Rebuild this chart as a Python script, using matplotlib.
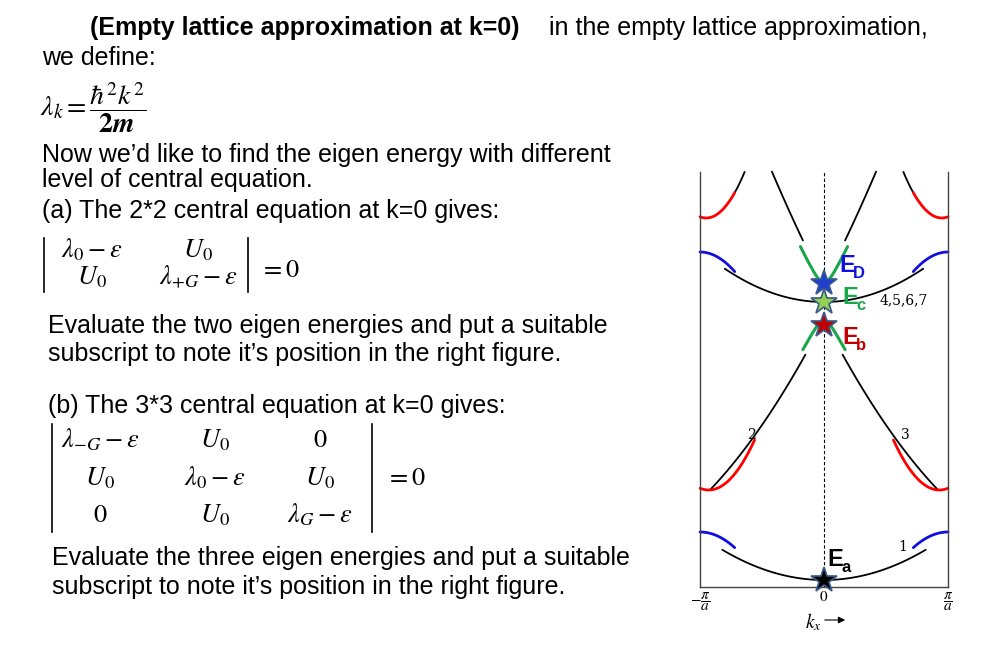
import numpy as np
import matplotlib
matplotlib.use("Agg")
import matplotlib.pyplot as plt

plt.rcParams["font.family"] = ["Liberation Sans", "DejaVu Sans"]
plt.rcParams["mathtext.fontset"] = "stix"

# ---- band parameters (schematic energies, k in units of pi/a) ----
band1 = (7, 45)          # E = a + b k^2
band23 = (27, 60)        # E = a + b (2 - |k|)^2  (bands 2, 3)
band47 = (285, 52)       # E = a + b k^2  (bands 4..7 bottom)
bandV = (64, 60)         # E = a + b (2 + |k|)^2  (upper V branches)
edge_top = (369, 480)    # red arcs near the zone edge, top
edge_mid = (97, 365)     # red arcs near the zone edge, middle
edge_blue_hi = (335, 250)
edge_blue_lo = (55, 200)
star_E = [7, 262, 285, 304]
star_col = ["black", "#c00000", "#92d050", "#1f3fd0"]

fig = plt.figure(figsize=(9.85, 6.58), dpi=100)
ax0 = fig.add_axes([0, 0, 1, 1])
ax0.set_xlim(0, 985); ax0.set_ylim(658, 0); ax0.axis("off")

fs = 18
ax0.text(90, 28, "(Empty lattice approximation at k=0)", fontsize=fs, weight="bold", va="center")
ax0.text(928, 28, "in the empty lattice approximation,", fontsize=fs, va="center", ha="right")
ax0.text(42, 58, "we define:", fontsize=fs, va="center")
ax0.text(40, 108, r"$\boldsymbol{\lambda_k} = \dfrac{\boldsymbol{\hbar^2 k^2}}{\boldsymbol{2m}}$",
         fontsize=20, va="center")
ax0.text(42, 155, "Now we\u2019d like to find the eigen energy with different", fontsize=fs, va="center")
ax0.text(42, 180, "level of central equation.", fontsize=fs, va="center")
ax0.text(42, 211, "(a) The 2*2 central equation at k=0 gives:", fontsize=fs, va="center")

mfs = 19
# 2x2 determinant
for (x, y, s) in [(92, 250, r"$\lambda_0-\epsilon$"), (198, 250, r"$U_0$"),
                  (92, 277, r"$U_0$"), (198, 277, r"$\lambda_{+G}-\epsilon$")]:
    ax0.text(x, y, s, fontsize=mfs, ha="center", va="center")
ax0.plot([44, 44], [238, 292], color="black", lw=1.2)
ax0.plot([248, 248], [238, 292], color="black", lw=1.2)
ax0.text(260, 270, r"$=0$", fontsize=mfs, va="center")

ax0.text(48, 326, "Evaluate the two eigen energies and put a suitable", fontsize=fs, va="center")
ax0.text(48, 354, "subscript to note it\u2019s position in the right figure.", fontsize=fs, va="center")
ax0.text(48, 406, "(b) The 3*3 central equation at k=0 gives:", fontsize=fs, va="center")

# 3x3 determinant
rows = [[r"$\lambda_{-G}-\epsilon$", r"$U_0$", r"$0$"],
        [r"$U_0$", r"$\lambda_0-\epsilon$", r"$U_0$"],
        [r"$0$", r"$U_0$", r"$\lambda_G-\epsilon$"]]
for i, row in enumerate(rows):
    for j, s in enumerate(row):
        ax0.text([100, 215, 320][j], [440, 478, 515][i], s, fontsize=mfs, ha="center", va="center")
ax0.plot([52, 52], [424, 532], color="black", lw=1.2)
ax0.plot([372, 372], [424, 532], color="black", lw=1.2)
ax0.text(386, 478, r"$=0$", fontsize=mfs, va="center")

ax0.text(52, 558, "Evaluate the three eigen energies and put a suitable", fontsize=fs, va="center")
ax0.text(52, 587, "subscript to note it\u2019s position in the right figure.", fontsize=fs, va="center")

# ---- band diagram ----
ax = fig.add_axes([700 / 985, (658 - 587) / 658, 248 / 985, 415 / 658])
ax.set_xlim(-1, 1); ax.set_ylim(0, 415)
ax.patch.set_alpha(0)
ax.spines["top"].set_visible(False)
for s in ["left", "right", "bottom"]:
    ax.spines[s].set_color("#444444"); ax.spines[s].set_linewidth(1.0)
ax.set_xticks([-1, 0, 1])
ax.set_xticklabels([r"$-\dfrac{\pi}{a}$", r"$0$", r"$\dfrac{\pi}{a}$"], fontsize=11)
ax.tick_params(length=0, pad=2)
ax.set_yticks([])
ax.axvline(0, color="black", lw=0.8, ls=(0, (3, 2)))

def seg(k, E, color="black", lw=1.3):
    ax.plot(k, E, color=color, lw=lw, solid_capstyle="round", clip_on=False)

def soft(k, d):
    return np.sqrt(k ** 2 + d ** 2) - d

for sgn in (-1, 1):
    # band 1
    k = sgn * np.linspace(0, 0.82, 80)
    seg(k, band1[0] + band1[1] * k ** 2)
    # bands 2 / 3 (black, then green cap near k=0)
    k = sgn * np.linspace(0.15, 0.92, 80)
    seg(k, band23[0] + band23[1] * (2 - np.abs(k)) ** 2)
    k = sgn * np.linspace(0, 0.17, 30)
    seg(k, band23[0] + band23[1] * (2 - soft(k, 0.05)) ** 2, color="#1aa64a", lw=2.2)
    # bands 4-7 lower parabola
    k = sgn * np.linspace(0, 0.8, 80)
    seg(k, band47[0] + band47[1] * k ** 2)
    # upper V branches
    k = sgn * np.linspace(0.17, 0.42, 60)
    seg(k, bandV[0] + bandV[1] * (2 + np.abs(k)) ** 2)
    k = sgn * np.linspace(0, 0.19, 30)
    seg(k, bandV[0] + bandV[1] * (2 + soft(k, 0.05)) ** 2, color="#1aa64a", lw=2.2)
    # zone-edge pieces
    k = sgn * np.linspace(0.64, 0.72, 20)
    seg(k, edge_top[0] + edge_top[1] * (np.abs(k) - 0.95) ** 2)
    k = sgn * np.linspace(0.72, 1.0, 40)
    seg(k, edge_top[0] + edge_top[1] * (np.abs(k) - 0.95) ** 2, color="red", lw=2.0)
    k = sgn * np.linspace(0.56, 1.0, 60)
    seg(k, edge_mid[0] + edge_mid[1] * (np.abs(k) - 0.93) ** 2, color="red", lw=2.0)
    k = sgn * np.linspace(0.72, 1.0, 40)
    seg(k, edge_blue_hi[0] - edge_blue_hi[1] * (1 - np.abs(k)) ** 2, color="#1010e0", lw=2.0)
    k = sgn * np.linspace(0.72, 1.0, 40)
    seg(k, edge_blue_lo[0] - edge_blue_lo[1] * (1 - np.abs(k)) ** 2, color="#1010e0", lw=2.0)

for E, c in zip(star_E, star_col):
    ax.plot(0, E, marker="*", ms=19, mfc=c, mec="#3a5a8a", mew=1.2, clip_on=False, zorder=5)

ax.text(-0.62, 148, "2", fontsize=10, family="DejaVu Serif")
ax.text(0.62, 148, "3", fontsize=10, family="DejaVu Serif")
ax.text(0.6, 36, "1", fontsize=10, family="DejaVu Serif")
ax.text(0.45, 283, "4,5,6,7", fontsize=10, family="DejaVu Serif")

def elabel(x, y, sub, color):
    ax.text(x, y, "E", fontsize=17, weight="bold", color=color, va="center")
    ax.text(x + 0.11, y - 8, sub, fontsize=12, weight="bold", color=color, va="center")

elabel(0.12, 322, "D", "#1010e0")
elabel(0.15, 290, "c", "#1aa64a")
elabel(0.15, 250, "b", "#c00000")
elabel(0.03, 27, "a", "black")
ax0.text(805, 622, r"$k_x$", fontsize=14, va="center")
ax0.annotate("", xy=(848, 620), xytext=(822, 620),
             arrowprops=dict(arrowstyle="-|>", color="black", lw=0.8))

fig.savefig("out.png", dpi=100)
